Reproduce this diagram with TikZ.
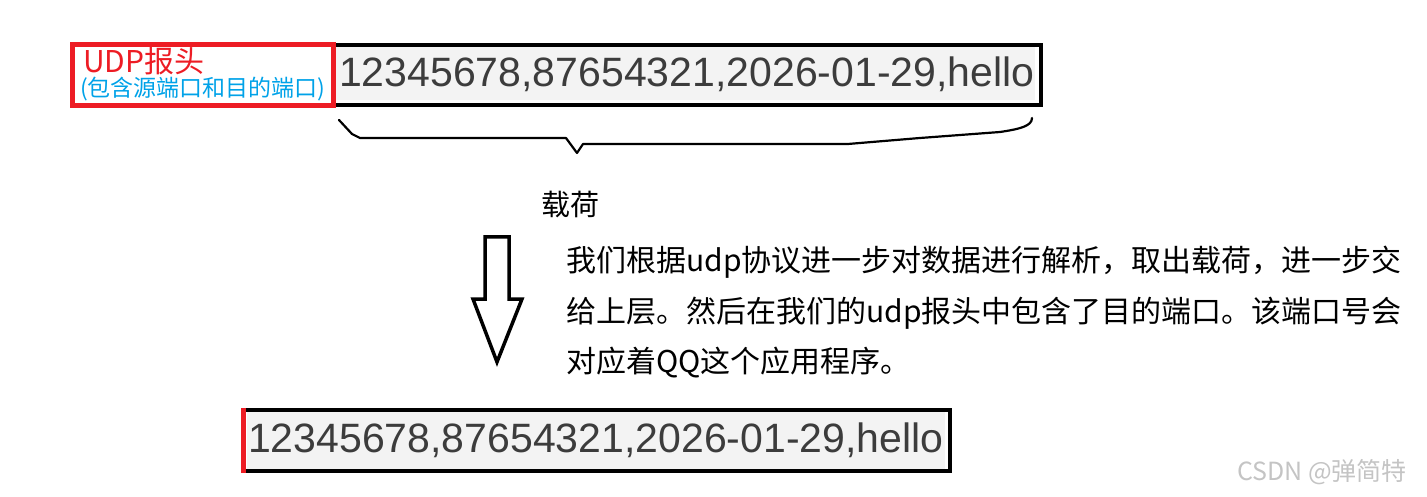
\documentclass[tikz,border=0pt]{standalone}
\usepackage{fontspec}
\setmainfont{Liberation Sans}
\newfontfamily\cjk{Noto Sans CJK SC}
\newfontfamily\arialf{Liberation Sans}
\definecolor{pred}{HTML}{ED1C24}
\definecolor{pblue}{HTML}{00A2E8}
\definecolor{pgray}{HTML}{F3F3F3}
\definecolor{ptext}{HTML}{3C3C3C}
\definecolor{wm}{HTML}{C4C4C4}
\tikzset{
  txt/.style={inner sep=0pt, anchor=base west},
  data/.style={txt, text=ptext, font=\arialf\fontsize{41}{41}\selectfont},
  para/.style={txt, font=\cjk\fontsize{30}{30}\selectfont},
  frame/.style={line width=4pt},
}
\begin{document}
\begin{tikzpicture}[x=1pt,y=-1pt]
\useasboundingbox (0,0) rectangle (1427,497);
% top data box
\fill[pgray] (335,47) rectangle (1035,100);
\draw[frame] (333,45) rectangle (1041,105.5);
\draw[pred, line width=5pt] (72.5,44.5) rectangle (333,105.5);
\node[data] (d1) at (339,87) {12345678,87654321,2026-01-29,hello};
\node[txt, text=pred, font=\cjk\fontsize{30}{30}\selectfont] (udp) at (83,73) {UDP报头};
\node[txt, text=pblue, font=\cjk\fontsize{23}{23}\selectfont] (sub) at (80,97) {(包含源端口和目的端口)};
% brace
\coordinate (b0) at (339,120);
\coordinate (b1) at (1032,118);
\draw[line width=2.2pt, line join=round, line cap=round]
  (b0) -- (352,134) -- (360,138) -- (566,138) -- (577,153) -- (583,144) -- (598,144)
  -- (848,144) -- (920,138) -- (1000,132) .. controls (1020,129) and (1032,126) .. (b1);
\node[txt, font=\cjk\fontsize{29}{29}\selectfont] (load) at (541,215) {载荷};
% hollow arrow
\draw[line width=3.5pt, miter limit=10] (485,237) -- (509,237) -- (509,299) -- (522,299)
  -- (497,362) -- (473,299) -- (485,299) -- cycle;
\node[para] (p1) at (566,271) {我们根据udp协议进一步对数据进行解析，取出载荷，进一步交};
\node[para] (p2) at (566,322) {给上层。然后在我们的udp报头中包含了目的端口。该端口号会};
\node[para] (p3) at (566,372) {对应着QQ这个应用程序。};
% bottom data box
\fill[pgray] (247,412) rectangle (945,469);
\draw[frame] (243,410) rectangle (950,471);
\draw[pred, line width=5pt] (243.5,408) -- (243.5,473);
\node[data] (d2) at (248,452) {12345678,87654321,2026-01-29,hello};
% watermark
\node[txt, text=wm, font=\cjk\fontsize{25}{25}\selectfont] (wmk) at (1237,480) {CSDN @弹简特};
\end{tikzpicture}
\end{document}
